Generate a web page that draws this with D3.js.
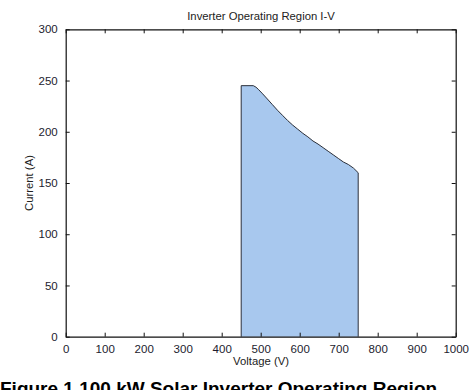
<!DOCTYPE html>
<html>
<head>
<meta charset="utf-8">
<script src="https://cdn.jsdelivr.net/npm/d3@7"></script>
<style>
  html, body { margin: 0; padding: 0; background: #fff; }
  svg { display: block; }
</style>
</head>
<body>
<svg id="chart" width="474" height="390"></svg>
<script>
// ── Data ─────────────────────────────────────────────────────────────────────
const voltage = [450, 450, 470, 481, 488, 495, 505, 517, 530, 543, 556, 569, 582, 595, 608, 621, 634, 647, 660, 673, 686, 699, 712, 725, 738, 750, 750];
const current = [0,   245, 245, 245, 243.5, 241, 237, 232, 226.5, 221, 216, 211, 206.5, 202.5, 198.5, 195, 191, 188, 184.5, 181, 177.5, 174, 170.5, 168, 164.5, 160, 0];
const xTicks = [0, 100, 200, 300, 400, 500, 600, 700, 800, 900, 1000];
const yTicks = [0, 50, 100, 150, 200, 250, 300];

// ── Layout ───────────────────────────────────────────────────────────────────
const svg = d3.select('#chart');
const L = 65.7, R = 455.7, T = 29.3, B = 336.7;

const x = d3.scaleLinear().domain([0, 1000]).range([L, R]);
const y = d3.scaleLinear().domain([0, 300]).range([B, T]);

const tickColor = '#1c1c2e';
const font = 'Arial, "Liberation Sans", sans-serif';

// ── Filled region ───────────────────────────────────────────────────────────
const pts = voltage.map((v, i) => [v, current[i]]);
svg.append('path')
  .datum(pts)
  .attr('d', d3.line().x(d => x(d[0])).y(d => y(d[1])))
  .attr('fill', '#a8c8ee')
  .attr('stroke', '#2a2f3a')
  .attr('stroke-width', 1);

// ── Axes (MATLAB style box with inward ticks) ───────────────────────────────
const fmt = d3.format('d');
const axBottom = svg.append('g').attr('transform', `translate(0,${B})`)
  .call(d3.axisBottom(x).tickValues(xTicks).tickFormat(fmt).tickSizeInner(-4).tickSizeOuter(0).tickPadding(8));
const axLeft = svg.append('g').attr('transform', `translate(${L},0)`)
  .call(d3.axisLeft(y).tickValues(yTicks).tickFormat(fmt).tickSizeInner(-4).tickSizeOuter(0).tickPadding(8));
const axTop = svg.append('g').attr('transform', `translate(0,${T})`)
  .call(d3.axisTop(x).tickValues(xTicks).tickSizeInner(-4).tickSizeOuter(0).tickFormat(''));
const axRight = svg.append('g').attr('transform', `translate(${R},0)`)
  .call(d3.axisRight(y).tickValues(yTicks).tickSizeInner(-4).tickSizeOuter(0).tickFormat(''));

[axBottom, axLeft, axTop, axRight].forEach(g => {
  g.selectAll('.domain').attr('stroke', '#111').attr('stroke-width', 1.2);
  g.selectAll('.tick line').attr('stroke', '#111');
  g.selectAll('.tick text')
    .attr('fill', tickColor)
    .style('font-family', font)
    .style('font-size', '11.5px');
});

// ── Labels ───────────────────────────────────────────────────────────────────
svg.append('text')
  .attr('x', 261).attr('y', 20)
  .attr('text-anchor', 'middle')
  .style('font-family', font).style('font-size', '11.3px')
  .attr('fill', '#222')
  .text('Inverter Operating Region I-V');

svg.append('text')
  .attr('x', 261).attr('y', 365)
  .attr('text-anchor', 'middle')
  .style('font-family', font).style('font-size', '11.3px')
  .attr('fill', '#222')
  .text('Voltage (V)');

svg.append('text')
  .attr('transform', `translate(33,${(T + B) / 2}) rotate(-90)`)
  .attr('text-anchor', 'middle')
  .style('font-family', font).style('font-size', '11.3px')
  .attr('fill', '#222')
  .text('Current (A)');

svg.append('text')
  .attr('x', 0).attr('y', 395)
  .style('font-family', font).style('font-size', '19px').style('font-weight', 'bold')
  .attr('fill', '#000')
  .text('Figure 1 100 kW Solar Inverter Operating Region');
</script>
</body>
</html>
